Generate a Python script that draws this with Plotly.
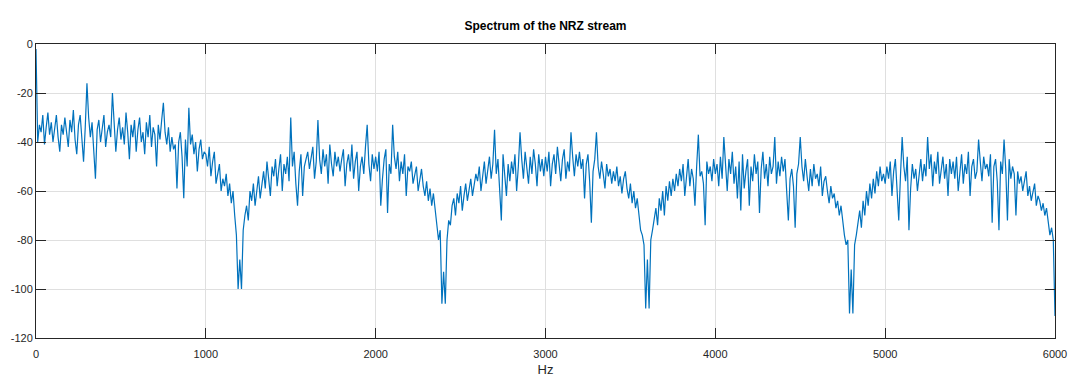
import numpy as np
import plotly.graph_objects as go

# Power spectrum (dB), 10 Hz spacing, 0..6000 Hz
p_0000 = [-2, -40, -33, -36, -29, -41, -34, -28, -37, -32, -40, -35, -29, -38, -44, -33, -37, -30, -35, -42]
p_0200 = [-31, -36, -27, -39, -45, -33, -29, -37, -48, -34, -16, -30, -38, -32, -46, -55, -35, -31, -40, -33]
p_0400 = [-29, -42, -36, -33, -38, -20, -31, -44, -35, -30, -39, -34, -41, -28, -36, -47, -33, -38, -31, -44]
p_0600 = [-35, -30, -40, -36, -45, -32, -38, -29, -42, -34, -37, -50, -33, -39, -31, -24, -36, -41, -34, -44]
p_0800 = [-38, -43, -41, -59, -40, -36, -46, -63, -39, -50, -26, -41, -37, -45, -40, -52, -43, -39, -47, -44]
p_1000 = [-45, -50, -42, -54, -48, -44, -57, -52, -49, -60, -55, -58, -53, -62, -57, -65, -60, -70, -78, -100]
p_1200 = [-88, -100, -76, -70, -66, -72, -60, -64, -57, -66, -61, -54, -63, -56, -52, -59, -48, -55, -62, -50]
p_1400 = [-54, -47, -58, -51, -45, -60, -49, -53, -46, -56, -30, -50, -44, -57, -66, -52, -45, -62, -50, -47]
p_1600 = [-44, -51, -46, -42, -55, -48, -31, -47, -53, -43, -50, -45, -57, -41, -49, -54, -44, -50, -46, -52]
p_1800 = [-47, -43, -58, -49, -45, -52, -41, -55, -48, -44, -60, -50, -46, -53, -42, -33, -49, -56, -45, -51]
p_2000 = [-46, -52, -44, -66, -55, -47, -43, -69, -49, -53, -33, -46, -51, -44, -56, -48, -53, -45, -62, -50]
p_2200 = [-52, -48, -57, -54, -50, -60, -55, -51, -58, -62, -56, -64, -59, -66, -61, -68, -72, -80, -76, -106]
p_2400 = [-93, -106, -80, -72, -74, -66, -63, -70, -61, -65, -58, -68, -62, -57, -64, -60, -55, -62, -58, -53]
p_2600 = [-56, -50, -60, -54, -48, -57, -52, -46, -55, -49, -35, -53, -47, -58, -72, -45, -54, -62, -49, -56]
p_2800 = [-48, -53, -45, -60, -50, -36, -47, -55, -44, -51, -57, -46, -53, -43, -49, -58, -45, -52, -47, -54]
p_3000 = [-46, -52, -44, -58, -49, -45, -53, -42, -50, -56, -47, -43, -55, -48, -52, -36, -46, -54, -45, -50]
p_3200 = [-44, -51, -47, -63, -49, -45, -56, -73, -52, -47, -36, -50, -55, -48, -53, -59, -49, -54, -51, -57]
p_3400 = [-52, -56, -50, -58, -54, -61, -55, -52, -59, -63, -57, -65, -60, -67, -63, -70, -76, -78, -82, -108]
p_3600 = [-88, -108, -80, -76, -72, -67, -74, -63, -68, -60, -70, -58, -64, -56, -62, -55, -60, -53, -58, -51]
p_3800 = [-56, -49, -62, -53, -47, -58, -51, -55, -66, -50, -37, -54, -52, -57, -74, -48, -53, -50, -56, -47]
p_4000 = [-53, -49, -58, -46, -55, -38, -51, -60, -47, -53, -44, -57, -50, -63, -48, -68, -45, -59, -52, -47]
p_4200 = [-66, -50, -56, -45, -53, -48, -69, -51, -44, -55, -49, -58, -46, -53, -50, -38, -57, -48, -54, -46]
p_4400 = [-52, -47, -60, -72, -55, -51, -58, -75, -53, -49, -38, -50, -56, -47, -54, -60, -51, -58, -49, -55]
p_4600 = [-53, -58, -50, -62, -56, -54, -60, -65, -58, -63, -61, -67, -64, -70, -66, -73, -78, -82, -80, -110]
p_4800 = [-92, -110, -82, -78, -73, -68, -75, -64, -70, -60, -66, -57, -63, -55, -61, -52, -58, -50, -56, -53]
p_5000 = [-57, -50, -55, -48, -62, -52, -47, -58, -72, -54, -38, -50, -56, -46, -76, -59, -49, -55, -51, -60]
p_5200 = [-52, -47, -56, -49, -54, -38, -51, -45, -58, -48, -53, -44, -57, -50, -46, -55, -49, -62, -47, -53]
p_5400 = [-48, -55, -46, -60, -51, -45, -57, -49, -53, -44, -62, -50, -47, -55, -52, -39, -48, -56, -46, -51]
p_5600 = [-49, -54, -45, -73, -50, -47, -56, -76, -48, -53, -39, -51, -72, -47, -55, -50, -53, -70, -52, -57]
p_5800 = [-54, -60, -56, -52, -62, -58, -64, -60, -57, -66, -62, -64, -68, -65, -70, -67, -72, -78, -75, -80]
p_6000 = [-111]

power_db = (p_0000 + p_0200 + p_0400 + p_0600 + p_0800 + p_1000 + p_1200 + p_1400
            + p_1600 + p_1800 + p_2000 + p_2200 + p_2400 + p_2600 + p_2800 + p_3000
            + p_3200 + p_3400 + p_3600 + p_3800 + p_4000 + p_4200 + p_4400 + p_4600
            + p_4800 + p_5000 + p_5200 + p_5400 + p_5600 + p_5800 + p_6000)
freq_hz = np.linspace(0, 6000, len(power_db))

x_ticks = [0, 1000, 2000, 3000, 4000, 5000, 6000]
x_tick_text = ["0", "1000", "2000", "3000", "4000", "5000", "6000"]
y_ticks = [-120, -100, -80, -60, -40, -20, 0]
y_tick_text = ["-120", "-100", "-80", "-60", "-40", "-20", "0"]

FONT = "Liberation Sans, Arial, sans-serif"
W, H = 1084, 380

fig = go.Figure()
fig.add_trace(go.Scatter(x=freq_hz, y=power_db, mode="lines",
                         line=dict(color="#0072BD", width=1.2), hoverinfo="skip"))

axis_common = dict(showline=True, linecolor="#262626", linewidth=1, mirror="ticks",
                   ticks="inside", ticklen=10, tickcolor="#262626", tickwidth=1,
                   showgrid=True, gridcolor="#DFDFDF", gridwidth=1, zeroline=False,
                   automargin=False,
                   tickfont=dict(family=FONT, size=11, color="#262626"))

fig.update_layout(
    width=W, height=H,
    margin=dict(l=28, r=37, t=36, b=50, autoexpand=False),
    paper_bgcolor="white", plot_bgcolor="white",
    showlegend=False,
    title=dict(text="<b>Spectrum of the NRZ stream</b>", x=(545.5 - 8) / W, xanchor="center",
               y=1 - 18 / H, yanchor="middle",
               font=dict(family=FONT, size=12, color="#000000")),
    xaxis=dict(range=[0, 6000], tickvals=x_ticks, ticktext=x_tick_text,
               ticklabelstandoff=6,
               title=dict(text="Hz", standoff=5,
                          font=dict(family=FONT, size=13, color="#262626")),
               **axis_common),
    yaxis=dict(range=[-120, 0], tickvals=y_ticks, ticktext=y_tick_text, **axis_common),
)

fig.write_html("out.html")
